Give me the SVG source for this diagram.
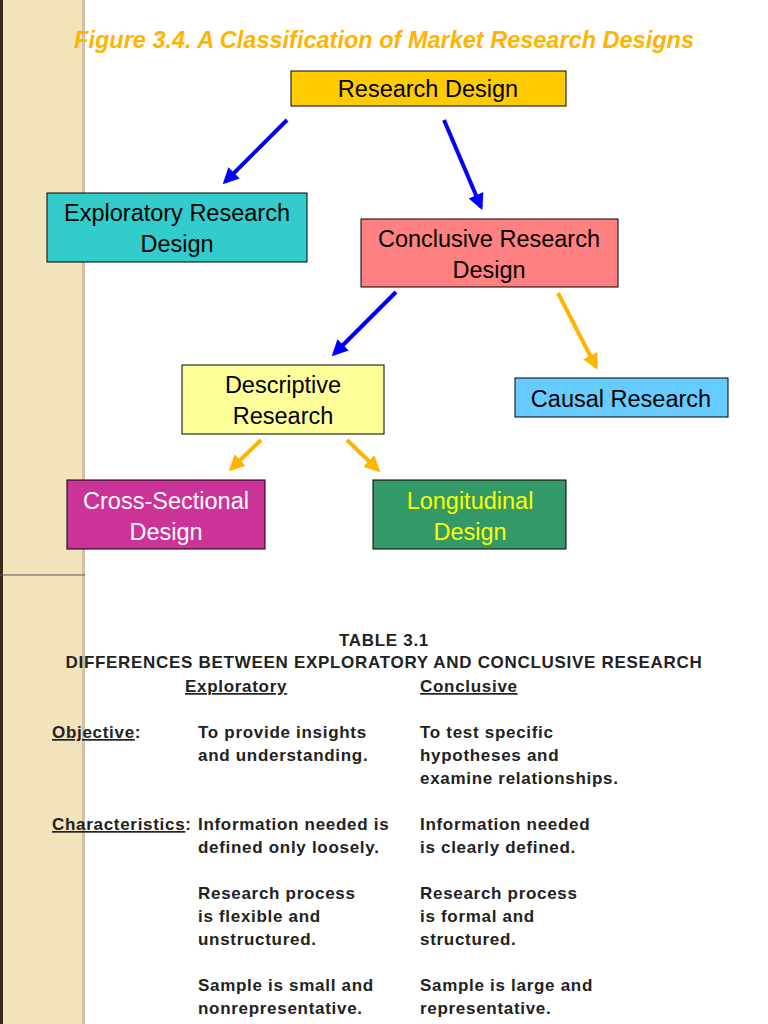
<svg xmlns="http://www.w3.org/2000/svg" width="768" height="1024" viewBox="0 0 768 1024">
<style>
.n{font-family:"Liberation Sans",Arial,sans-serif;font-size:23.5px;text-anchor:middle}
.t{font-family:"Liberation Sans",Arial,sans-serif;font-size:17px;font-weight:bold;fill:#222;letter-spacing:0.7px}
.u{text-decoration:underline}
.box{stroke:#000;stroke-width:1}
</style>
<defs>
<marker id="ab" viewBox="0 0 10 10" refX="8" refY="5" markerWidth="4" markerHeight="4" orient="auto"><path d="M0,0L10,5L0,10z" fill="#0000ff"/></marker>
<marker id="ay" viewBox="0 0 10 10" refX="8" refY="5" markerWidth="4" markerHeight="4" orient="auto"><path d="M0,0L10,5L0,10z" fill="#ffb400"/></marker>
</defs>
<rect width="768" height="1024" fill="#fff"/>
<rect x="0" y="0" width="85" height="1024" fill="#f3e3bb"/>
<rect x="0" y="0" width="3" height="1024" fill="#3a2a1a"/>
<rect x="82" y="0" width="3" height="1024" fill="#cfc2a0"/>
<line x1="0" y1="575" x2="85" y2="575" stroke="#555" stroke-width="1"/>
<text x="384" y="48" font-family="Liberation Sans,Arial,sans-serif" font-size="23.5" font-weight="bold" font-style="italic" fill="#ffb400" text-anchor="middle">Figure 3.4. A Classification of Market Research Designs</text>
<g id="connectors" stroke-width="4" fill="none">
<line x1="287" y1="120" x2="225" y2="182" stroke="#0000ff" marker-end="url(#ab)"/>
<line x1="444" y1="120" x2="481" y2="207" stroke="#0000ff" marker-end="url(#ab)"/>
<line x1="396" y1="292" x2="334" y2="354" stroke="#0000ff" marker-end="url(#ab)"/>
<line x1="558" y1="293" x2="596" y2="367" stroke="#ffb400" marker-end="url(#ay)"/>
<line x1="261" y1="440" x2="231" y2="469" stroke="#ffb400" marker-end="url(#ay)"/>
<line x1="347" y1="440" x2="378" y2="470" stroke="#ffb400" marker-end="url(#ay)"/>
</g>
<g id="research-design"><rect class="box" x="291" y="71" width="275" height="35" fill="#ffcc00"/><text class="n" x="428" y="97" font-size="21">Research Design</text></g>
<g id="exploratory"><rect class="box" x="47" y="193" width="260" height="69" fill="#33cccc"/><text class="n" x="177" y="221">Exploratory Research</text><text class="n" x="177" y="252">Design</text></g>
<g id="conclusive"><rect class="box" x="361" y="219" width="257" height="68" fill="#ff8080"/><text class="n" x="489" y="247">Conclusive Research</text><text class="n" x="489" y="278">Design</text></g>
<g id="descriptive"><rect class="box" x="182" y="365" width="202" height="69" fill="#ffff99"/><text class="n" x="283" y="393">Descriptive</text><text class="n" x="283" y="424">Research</text></g>
<g id="causal"><rect class="box" x="515" y="378" width="213" height="39" fill="#66ccff"/><text class="n" x="621" y="407" font-size="23">Causal Research</text></g>
<g id="cross-sectional"><rect class="box" x="67" y="480" width="198" height="69" fill="#cc3399"/><text class="n" x="166" y="509" fill="#fff">Cross-Sectional</text><text class="n" x="166" y="540" fill="#fff">Design</text></g>
<g id="longitudinal"><rect class="box" x="373" y="480" width="193" height="69" fill="#339966"/><text class="n" x="470" y="509" fill="#ffff00">Longitudinal</text><text class="n" x="470" y="540" fill="#ffff00">Design</text></g>
<g id="table">
<text class="t" x="384" y="646" text-anchor="middle">TABLE 3.1</text>
<text class="t" x="384" y="668" text-anchor="middle">DIFFERENCES BETWEEN EXPLORATORY AND CONCLUSIVE RESEARCH</text>
<text class="t u" x="185" y="692">Exploratory</text>
<text class="t u" x="420" y="692">Conclusive</text>
<text class="t" x="52" y="738"><tspan class="u">Objective</tspan>:</text>
<text class="t" x="198" y="738">To provide insights</text>
<text class="t" x="198" y="761">and understanding.</text>
<text class="t" x="420" y="738">To test specific</text>
<text class="t" x="420" y="761">hypotheses and</text>
<text class="t" x="420" y="784">examine relationships.</text>
<text class="t" x="52" y="830"><tspan class="u">Characteristics</tspan>:</text>
<text class="t" x="198" y="830">Information needed is</text>
<text class="t" x="198" y="853">defined only loosely.</text>
<text class="t" x="420" y="830">Information needed</text>
<text class="t" x="420" y="853">is clearly defined.</text>
<text class="t" x="198" y="899">Research process</text>
<text class="t" x="198" y="922">is flexible and</text>
<text class="t" x="198" y="945">unstructured.</text>
<text class="t" x="420" y="899">Research process</text>
<text class="t" x="420" y="922">is formal and</text>
<text class="t" x="420" y="945">structured.</text>
<text class="t" x="198" y="991">Sample is small and</text>
<text class="t" x="198" y="1014">nonrepresentative.</text>
<text class="t" x="420" y="991">Sample is large and</text>
<text class="t" x="420" y="1014">representative.</text>
</g>
</svg>
